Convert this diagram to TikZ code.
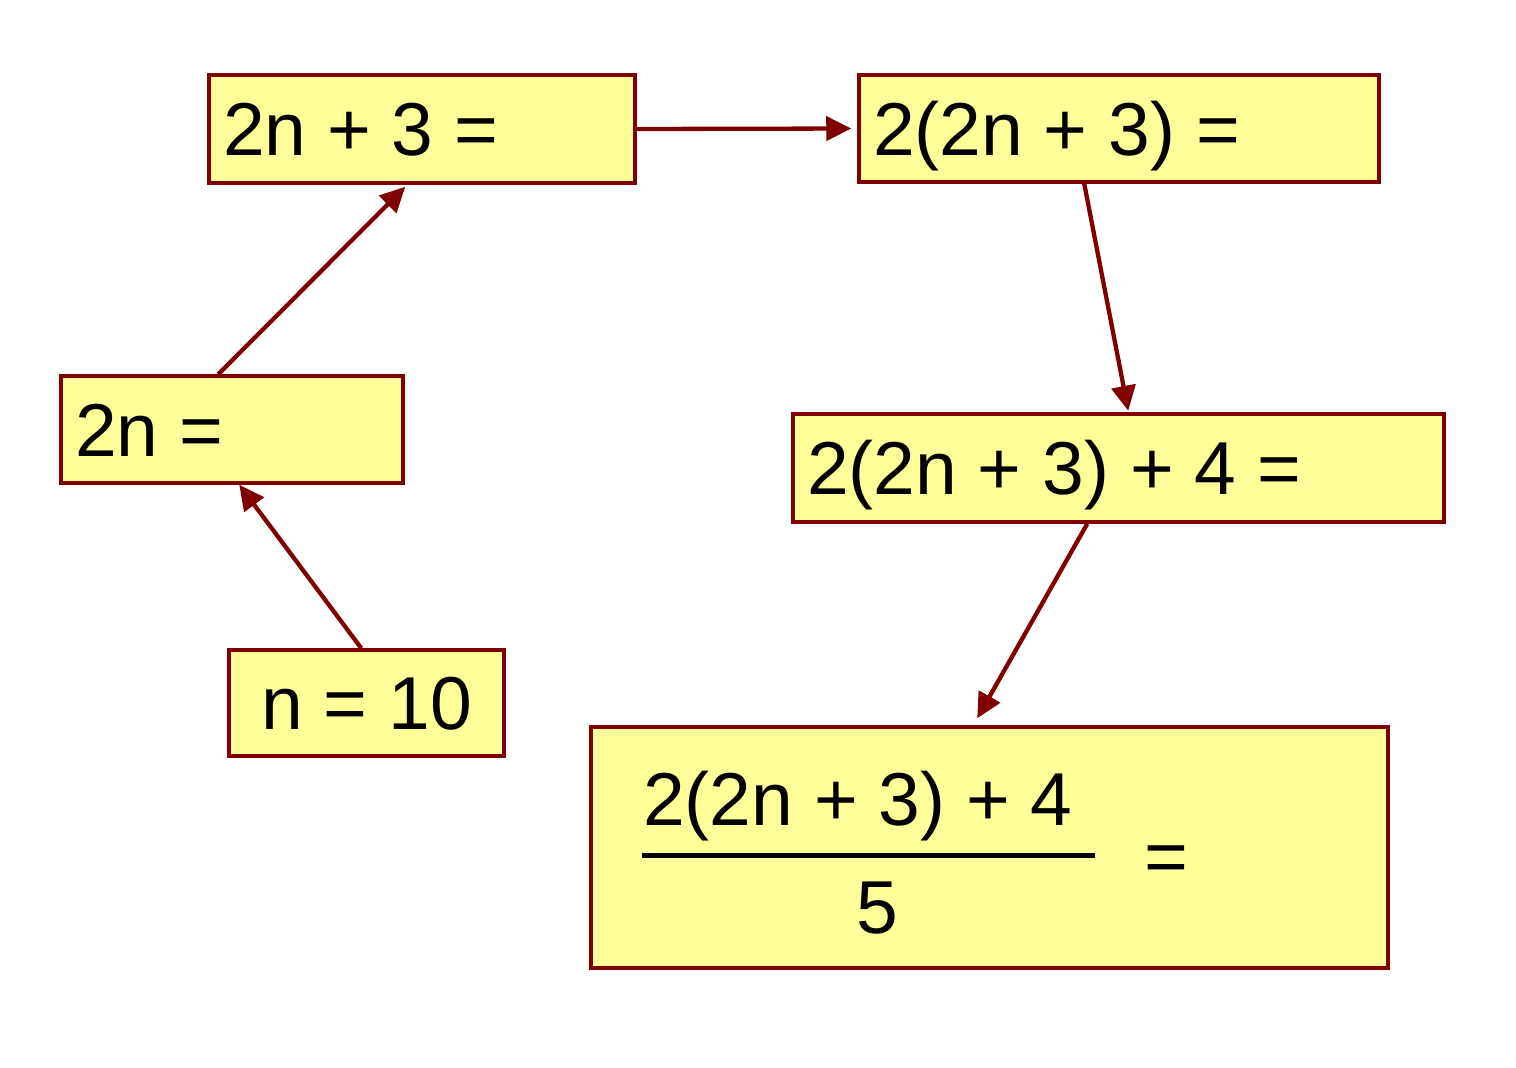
\documentclass[tikz,border=0pt]{standalone}
\usepackage{fontspec}
\setmainfont{Liberation Sans}
\usetikzlibrary{arrows.meta}
\definecolor{dred}{RGB}{128,0,0}
\definecolor{yel}{RGB}{255,255,153}
\tikzset{
  box/.style={draw=dred, fill=yel, line width=3.5pt, rectangle, inner xsep=14pt, inner ysep=0pt,
    text height=53pt, text depth=0pt, font=\fontsize{75}{80}\selectfont},
  conn/.style={draw=dred, line width=4.3pt, -{Triangle[length=25pt,width=24pt]}},
  big/.style={font=\fontsize{75}{80}\selectfont, inner sep=0pt}
}
\begin{document}
\begin{tikzpicture}[x=1pt,y=-1pt]
\useasboundingbox (0,0) rectangle (1516,1068);
\node[box, minimum width=426pt, minimum height=108pt] (A) at (422,129) {\makebox[398pt][l]{2n + 3 =}};
\node[box, minimum width=520pt, minimum height=107pt] (B) at (1119,128.5) {\makebox[492pt][l]{2(2n + 3) =}};
\node[box, minimum width=342pt, minimum height=107pt] (C) at (232,429.5) {\makebox[314pt][l]{2n =}};
\node[box, minimum width=275pt, minimum height=106pt] (D) at (366.5,703) {n = 10};
\node[box, minimum width=651pt, minimum height=108pt] (E) at (1118.5,468) {\makebox[623pt][l]{2(2n + 3) + 4 =}};
\node[box, minimum width=797pt, minimum height=241pt] (F) at (989.5,847.5) {};
% fraction content
\node[big, anchor=base west] (num) at (643,825) {2(2n + 3) + 4};
\node[big, anchor=base] (den) at (877,933) {5};
\draw[line width=5pt] (642,855) coordinate (barl) -- (1095,855) coordinate (barr);
\node[big, anchor=base] (eq) at (1166,882) {=};
% connectors
\draw[conn, shorten >=6pt] (A.east) -- (B.west);
\draw[conn] ([xshift=159pt]C.north west) -- ([xshift=198pt,yshift=-2pt]A.south west);
\draw[conn] ([xshift=134pt]D.north west) -- ([xshift=180pt]C.south west);
\draw[conn] ([xshift=227pt]B.south west) -- ([xshift=337pt,yshift=1.5pt]E.north west);
\draw[conn] ([xshift=296pt]E.south west) -- ([xshift=388pt,yshift=7pt]F.north west);
\end{tikzpicture}
\end{document}
